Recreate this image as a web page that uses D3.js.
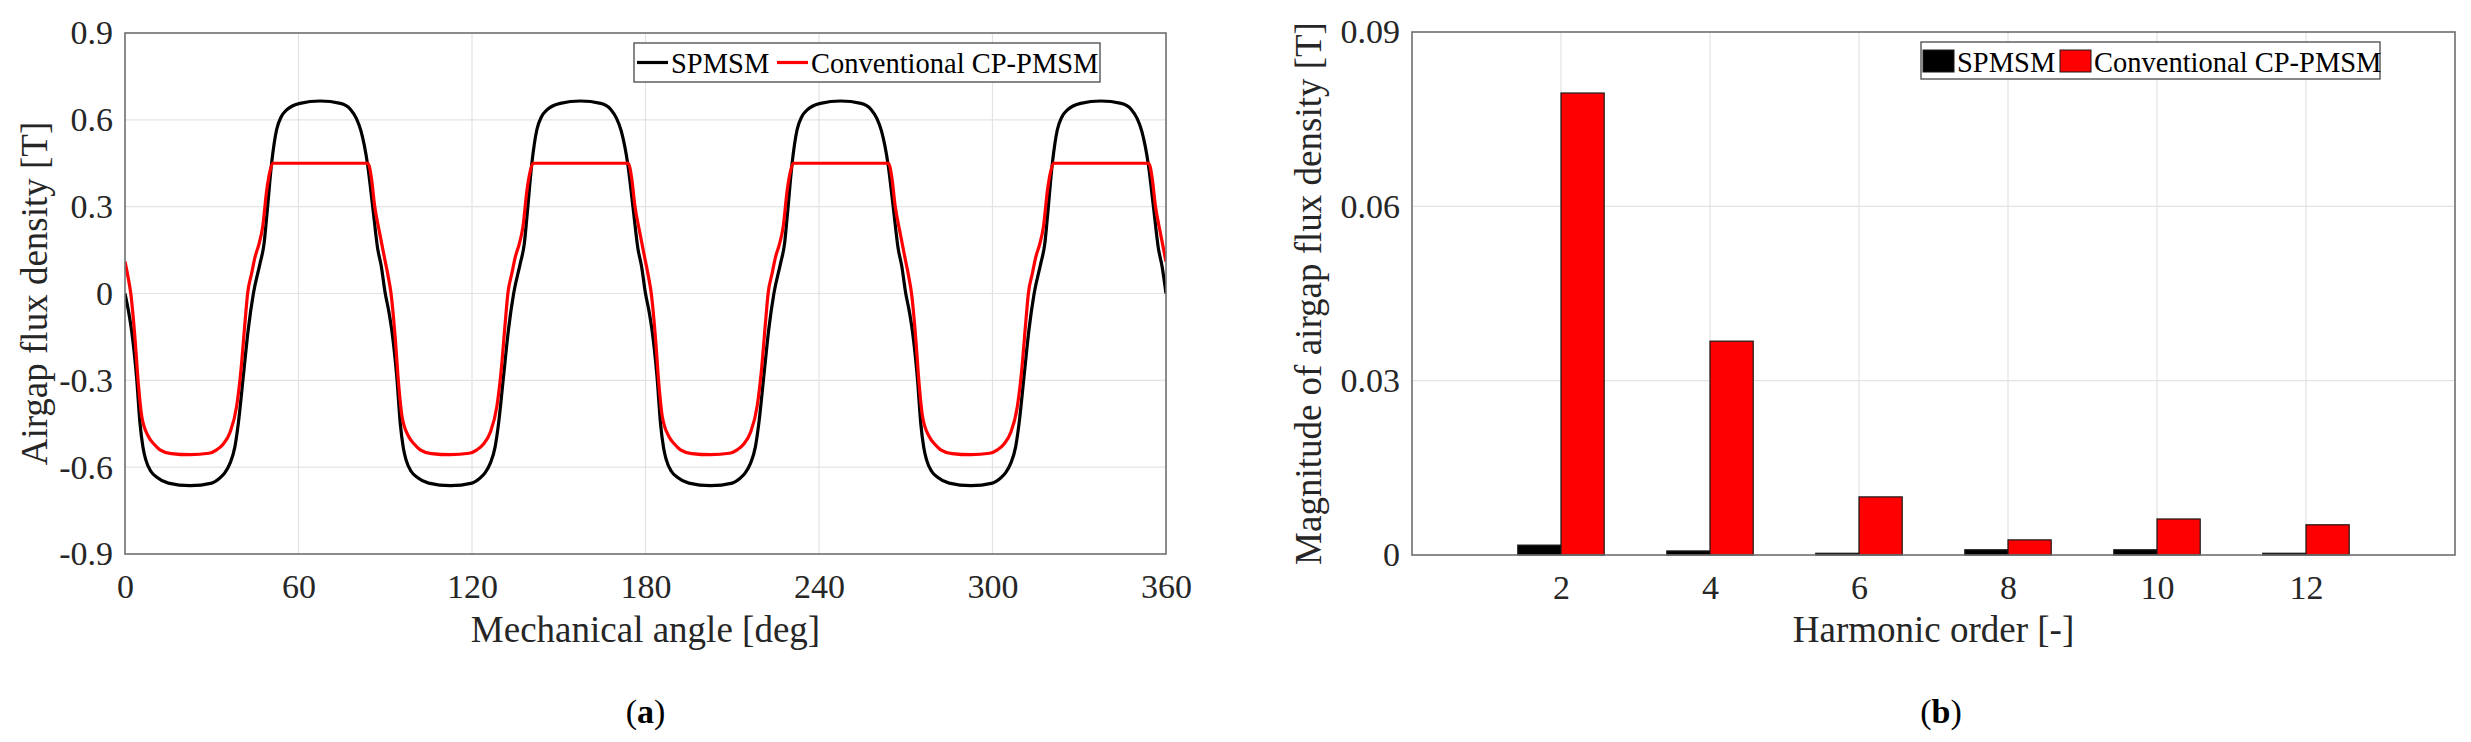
<!DOCTYPE html>
<html lang="en">
<head>
<meta charset="UTF-8">
<title>Airgap flux density</title>
<script src="https://cdn.jsdelivr.net/npm/d3@7"></script>
<style>
  html, body { margin: 0; background: #fff; overflow: hidden; }
  svg { display: block; }
</style>
</head>
<body>
<svg id="svg" width="2471" height="742"></svg>
<script>
// ---- (a) waveform: one 90 deg period, repeated per pole pair
const periodStarts = [0, 90, 180, 270];
const spmsmAngle = [0, 1.2, 2.3, 4.0, 5.2, 6.2, 7.2, 9, 11, 15, 22.5, 30, 32.5, 34.5, 36.3, 38, 39.2, 40.9, 42.6,
  44.4, 46.7, 48.1, 49.0, 50.7, 52.4, 54, 55.9, 60.5, 67.5, 74.5, 78, 80, 81.6, 83.9, 85.6, 87.4, 88.6];
const spmsmFlux = [0, -0.06, -0.13, -0.29, -0.45, -0.53, -0.575, -0.615, -0.635, -0.655, -0.664, -0.655, -0.64, -0.62, -0.587, -0.53, -0.448, -0.287, -0.126,
  0, 0.104, 0.173, 0.265, 0.45, 0.565, 0.61, 0.634, 0.657, 0.665, 0.657, 0.636, 0.605, 0.562, 0.445, 0.305, 0.154, 0.096];
const cpAngle = [0, 1, 2, 3.5, 4.6, 5.8, 8.1, 10, 12.1, 16, 22.5, 29, 31.7, 34, 36.3, 38.6, 40, 41.5, 42.4,
  43.8, 45.0, 46.4, 47.6, 49.0, 50.2, 51.1, 84.0, 85.2, 86.3, 88.0];
const cpFlux = [0.11, 0.06, 0, -0.16, -0.31, -0.425, -0.494, -0.52, -0.54, -0.553, -0.557, -0.552, -0.54, -0.52, -0.48, -0.39, -0.275, -0.10, 0,
  0.07, 0.127, 0.173, 0.23, 0.356, 0.425, 0.45, 0.45, 0.40, 0.305, 0.212];
const angleTicks = [0, 60, 120, 180, 240, 300, 360];
const fluxTicks = [-0.9, -0.6, -0.3, 0, 0.3, 0.6, 0.9];

// ---- (b) harmonic spectrum
const harmonics = [2, 4, 6, 8, 10, 12];
const spmsmHarm = [0.0017, 0.0007, 0.0003, 0.0009, 0.0009, 0.0003];
const cpHarm = [0.0795, 0.0368, 0.0100, 0.0026, 0.0062, 0.0052];
const harmTicks = [2, 4, 6, 8, 10, 12];
const magTicks = [0, 0.03, 0.06, 0.09];

const seriesNames = ['SPMSM', 'Conventional CP-PMSM'];
const seriesColors = ['#000000', '#ff0000'];

const serif = '"Liberation Serif", "Times New Roman", serif';
const svg = d3.select('#svg');
svg.append('rect').attr('width', 2471).attr('height', 742).attr('fill', '#fff');

const tickFont = 34, titleFont = 37, legendFont = 28.5;
const gridColor = '#e3e3e3', frameColor = '#6e6e6e', textColor = '#262626';

const tile = (angle, flux) => {
  const pts = periodStarts.flatMap(p => angle.map((a, i) => [a + p, flux[i]]));
  pts.push([360, flux[0]]);
  return pts;
};

function frame(g, w, h) {
  g.append('rect').attr('width', w).attr('height', h)
    .attr('fill', 'none').attr('stroke', frameColor).attr('stroke-width', 1.6);
}

function styleAxis(sel) {
  sel.attr('font-family', serif).attr('font-size', tickFont);
  sel.select('.domain').remove();
  sel.selectAll('text')
    .style('font-family', serif).style('font-size', tickFont + 'px').attr('fill', textColor);
}

function label(x, y, size, txt) {
  return svg.append('text').attr('x', x).attr('y', y)
    .style('font-family', serif).attr('font-size', size).attr('fill', textColor).text(txt);
}

// ================= (a) =================
{
  const box = { x0: 125, x1: 1166, y0: 33, y1: 554 };
  const w = box.x1 - box.x0, h = box.y1 - box.y0;
  const g = svg.append('g').attr('transform', `translate(${box.x0},${box.y0})`);
  const x = d3.scaleLinear().domain([0, 360]).range([0, w]);
  const y = d3.scaleLinear().domain([-0.9, 0.9]).range([h, 0]);

  g.selectAll('.vgrid').data(angleTicks.slice(1, -1)).join('line')
    .attr('x1', d => x(d)).attr('x2', d => x(d)).attr('y1', 0).attr('y2', h)
    .attr('stroke', gridColor).attr('stroke-width', 1.2);
  g.selectAll('.hgrid').data(fluxTicks.slice(1, -1)).join('line')
    .attr('y1', d => y(d)).attr('y2', d => y(d)).attr('x1', 0).attr('x2', w)
    .attr('stroke', gridColor).attr('stroke-width', 1.2);

  g.append('clipPath').attr('id', 'clipA').append('rect').attr('width', w).attr('height', h);
  const line = d3.line().x(d => x(d[0])).y(d => y(d[1])).curve(d3.curveMonotoneX);
  const curves = [tile(spmsmAngle, spmsmFlux), tile(cpAngle, cpFlux)];
  g.append('g').attr('clip-path', 'url(#clipA)')
    .selectAll('path').data(curves).join('path')
    .attr('d', line).attr('fill', 'none')
    .attr('stroke', (d, i) => seriesColors[i]).attr('stroke-width', 3.2)
    .attr('stroke-linejoin', 'round');

  frame(g, w, h);

  g.append('g').attr('transform', `translate(0,${h})`)
    .call(d3.axisBottom(x).tickValues(angleTicks).tickSize(0).tickPadding(20).tickFormat(d3.format('d')))
    .call(styleAxis);
  g.append('g')
    .call(d3.axisLeft(y).tickValues(fluxTicks).tickSize(0).tickPadding(12)
      .tickFormat(d => d === 0 ? '0' : d.toFixed(1)))
    .call(styleAxis);

  label((box.x0 + box.x1) / 2, 642, titleFont, 'Mechanical angle [deg]').attr('text-anchor', 'middle');
  label(0, 0, titleFont, 'Airgap flux density [T]').attr('text-anchor', 'middle')
    .attr('transform', `translate(47,${(box.y0 + box.y1) / 2}) rotate(-90)`);

  // legend
  const lg = svg.append('g');
  lg.append('rect').attr('x', 634).attr('y', 43).attr('width', 466).attr('height', 39)
    .attr('fill', '#fff').attr('stroke', '#555').attr('stroke-width', 1.4);
  [{ x: 637 }, { x: 777 }].forEach((it, i) => {
    lg.append('line').attr('x1', it.x).attr('x2', it.x + 31).attr('y1', 62.5).attr('y2', 62.5)
      .attr('stroke', seriesColors[i]).attr('stroke-width', 3.2);
    label(it.x + 34, 73, legendFont, seriesNames[i]).attr('fill', '#000');
  });

  label((box.x0 + box.x1) / 2, 723, 34, '').attr('text-anchor', 'middle').attr('fill', '#000')
    .html('(<tspan font-weight="bold">a</tspan>)');
}

// ================= (b) =================
{
  const box = { x0: 1412, x1: 2455, y0: 32, y1: 555 };
  const w = box.x1 - box.x0, h = box.y1 - box.y0;
  const g = svg.append('g').attr('transform', `translate(${box.x0},${box.y0})`);
  const x = d3.scaleLinear().domain([0, 14]).range([0, w]);
  const y = d3.scaleLinear().domain([0, 0.09]).range([h, 0]);
  const barW = 0.58;

  g.selectAll('.vgrid').data(harmTicks).join('line')
    .attr('x1', d => x(d)).attr('x2', d => x(d)).attr('y1', 0).attr('y2', h)
    .attr('stroke', gridColor).attr('stroke-width', 1.2);
  g.selectAll('.hgrid').data(magTicks.slice(1, -1)).join('line')
    .attr('y1', d => y(d)).attr('y2', d => y(d)).attr('x1', 0).attr('x2', w)
    .attr('stroke', gridColor).attr('stroke-width', 1.2);

  const bars = [
    ...harmonics.map((hh, i) => ({ h: hh, v: spmsmHarm[i], s: 0 })),
    ...harmonics.map((hh, i) => ({ h: hh, v: cpHarm[i], s: 1 }))
  ];
  g.selectAll('.bar').data(bars).join('rect')
    .attr('x', d => d.s === 0 ? x(d.h - barW) : x(d.h))
    .attr('width', x(barW) - x(0))
    .attr('y', d => y(d.v))
    .attr('height', d => y(0) - y(d.v))
    .attr('fill', d => seriesColors[d.s])
    .attr('stroke', '#1a1a1a').attr('stroke-width', 1.2);

  frame(g, w, h);

  g.append('g').attr('transform', `translate(0,${h})`)
    .call(d3.axisBottom(x).tickValues(harmTicks).tickSize(0).tickPadding(20).tickFormat(d3.format('d')))
    .call(styleAxis);
  g.append('g')
    .call(d3.axisLeft(y).tickValues(magTicks).tickSize(0).tickPadding(12)
      .tickFormat(d => d === 0 ? '0' : d.toFixed(2)))
    .call(styleAxis);

  label((box.x0 + box.x1) / 2, 642, titleFont, 'Harmonic order [-]').attr('text-anchor', 'middle');
  label(0, 0, titleFont, 'Magnitude of airgap flux density [T]').attr('text-anchor', 'middle')
    .attr('transform', `translate(1321,${(box.y0 + box.y1) / 2}) rotate(-90)`);

  const lg = svg.append('g');
  lg.append('rect').attr('x', 1921).attr('y', 42).attr('width', 459).attr('height', 37)
    .attr('fill', '#fff').attr('stroke', '#555').attr('stroke-width', 1.4);
  [{ x: 1923 }, { x: 2060 }].forEach((it, i) => {
    lg.append('rect').attr('x', it.x).attr('y', 50).attr('width', 31).attr('height', 22)
      .attr('fill', seriesColors[i]).attr('stroke', '#1a1a1a').attr('stroke-width', 1);
    label(it.x + 34, 72, legendFont, seriesNames[i]).attr('fill', '#000');
  });

  label(1941, 723, 34, '').attr('text-anchor', 'middle').attr('fill', '#000')
    .html('(<tspan font-weight="bold">b</tspan>)');
}
</script>
</body>
</html>
